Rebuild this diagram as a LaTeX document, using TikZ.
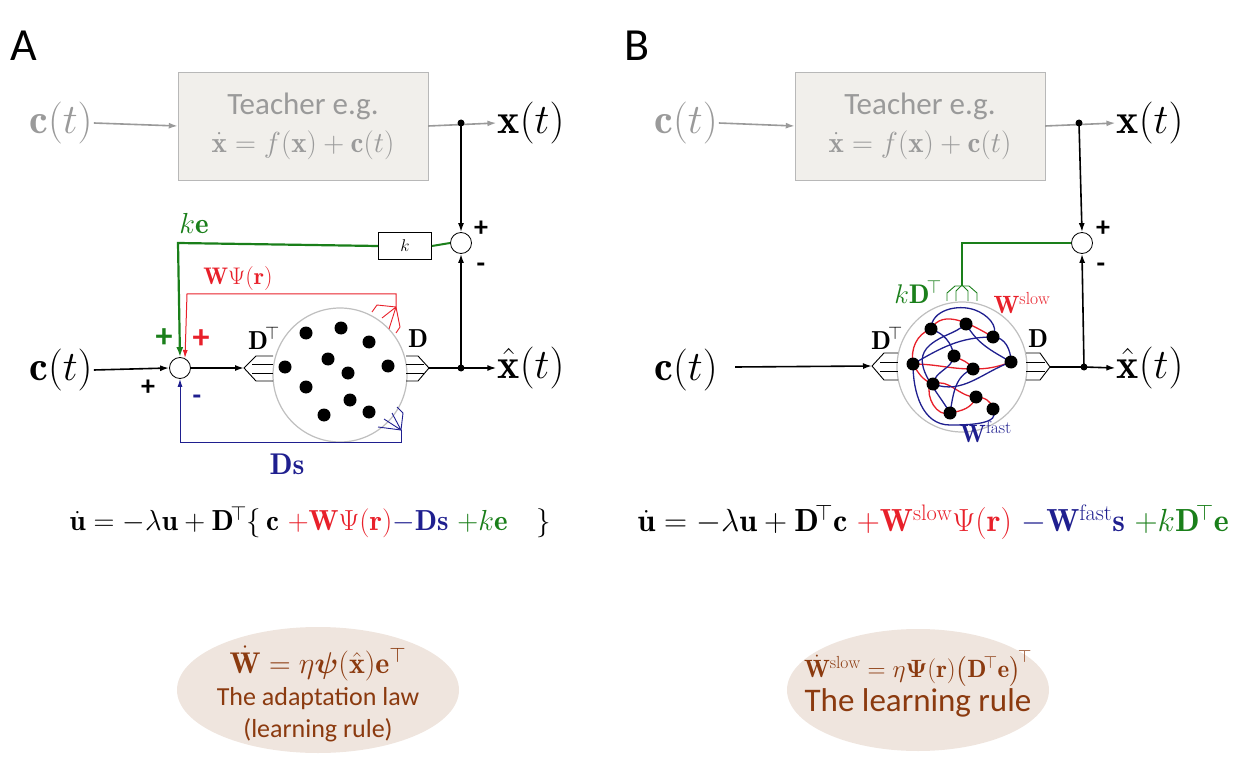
\RequirePackage{fix-cm}
\documentclass[tikz,border=0pt]{standalone}
\usepackage{amsmath,amssymb,bm}
\usepackage{fontspec}
\newfontfamily\sansf{Carlito}
\usetikzlibrary{arrows.meta,shapes.geometric}
\definecolor{myred}{HTML}{E8202A}
\definecolor{mygreen}{HTML}{1A7F1A}
\definecolor{myblue}{HTML}{1F1F8F}
\definecolor{mygrey}{HTML}{9A9A9A}
\definecolor{mybrown}{HTML}{8B3A0F}
\definecolor{boxfill}{HTML}{F1EFEB}
\definecolor{ellfill}{HTML}{EFE5DE}
\begin{document}
\begin{tikzpicture}[x=1pt,y=-1pt,
  sig/.style={line width=1.6pt,-{Latex[length=9pt,width=6pt]}},
  big/.style={font=\fontsize{42}{46}\selectfont,inner sep=1pt},
  sumc/.style={circle,draw,fill=white,minimum size=21pt,inner sep=0pt,line width=0.8pt},
  teacher/.style={draw=mygrey!70,fill=boxfill,minimum width=250pt,minimum height=108pt,align=center,text=mygrey,font=\fontsize{29}{36}\selectfont},
  net/.style={circle,draw=black!25,fill=white,line width=1.2pt},
  dot/.style={circle,fill=black,inner sep=0pt,minimum size=13pt},
  conn/.style={line width=0.9pt},
  ell/.style={ellipse,fill=ellfill,inner sep=0pt},
  pm/.style={font=\sansf\bfseries\fontsize{28}{28}\selectfont},
  dl/.style={font=\fontsize{26}{28}\selectfont},
  lab/.style={font=\sansf\fontsize{46}{46}\selectfont}]
\useasboundingbox (0,0) rectangle (1251,762);
\node[lab] at (24,46) {A};
\node[lab] at (637,46) {B};
% ---------------- A ----------------
\node[teacher] (tA) at (303,126) {{\sansf\fontsize{31}{34}\selectfont Teacher e.g.}\\[2pt] $\dot{\mathbf x}=f(\mathbf x)+\mathbf c(t)$};
\node[big,text=mygrey] (ciA) at (61,123) {$\mathbf c(t)$};
\draw[sig,mygrey] (ciA.east) -- (tA.west);
\coordinate (jA) at (461,123);
\node[big] (xA) at (531,123) {$\mathbf x(t)$};
\draw[sig,mygrey] (tA.east) -- (xA.west);
\fill (jA) circle (3.5pt);
\node[sumc] (sA2) at (461,243) {};
\draw[sig] (jA) -- (sA2.north);
\node[pm] at (481,229) {+};
\node[pm] at (481,268) {-};
\node[draw,fill=white,minimum width=53pt,minimum height=27pt,line width=0.8pt,font=\fontsize{17}{18}\selectfont] (kA) at (405,246) {$k$};
\draw[mygreen,line width=2pt] (sA2.west) -- (kA.east);
\node[sumc] (sA) at (180,368) {};
\draw[mygreen,line width=2.2pt,-{Latex[length=10pt,width=7pt]}] (kA.west) -- (178,243) -- (sA.north);
\node[text=mygreen,font=\fontsize{29}{30}\selectfont] at (194,224) {$k\mathbf e$};
\node[big] (cA) at (61,370) {$\mathbf c(t)$};
\draw[sig] (cA.east) -- (sA.west);
\node[pm] at (148,388) {+};
\node[pm,text=mygreen,font=\sansf\bfseries\fontsize{34}{34}\selectfont] at (164,338) {+};
\node[pm,text=myred,font=\sansf\bfseries\fontsize{34}{34}\selectfont] at (201,339) {+};
\node[pm,text=myblue] at (197,400) {-};
% network
\node[net,minimum size=134pt] (nA) at (340,375) {};
\foreach \p in {(306,333),(341,328),(369,342),(328,359),(285,367),(388,366),(348,373),(306,387),(350,400),(369,412),(324,415)}
  \node[dot] at \p {};
% D^T connector
\coordinate (dtA) at (244,368);
\draw[conn] (273,356)--(256,356)--(244,368)--(256,381)--(273,381);
\draw[conn] (252,364)--(273,364) (252,373)--(273,373);
\draw[sig] (sA.east) -- (dtA);
\node[dl] at (264,338) {$\mathbf D^{\!\top}$};
% D connector
\coordinate (dA) at (429,368);
\draw[conn] (406,356)--(418,356)--(429,368)--(418,381)--(406,381);
\draw[conn] (406,364)--(424,364) (406,373)--(424,373);
\node[dl] at (418,339) {$\mathbf D$};
\coordinate (jA2) at (461,368);
\node[big] (xhA) at (531,368) {$\hat{\mathbf x}(t)$};
\draw[line width=1.6pt] (dA) -- (jA2);
\draw[sig] (jA2) -- (xhA.west);
\fill (jA2) circle (3.5pt);
\draw[sig] (jA2) -- (sA2.south);
% red loop
\draw[myred,conn] (372,312)--(377,305)--(396,307)--(400,327)--(396,333);
\draw[myred,conn] (396,307)--(382,318) (396,307)--(389,329);
\draw[myred,line width=1pt,-{Latex[length=8pt,width=5pt]}] (396,307) -- (396,294) -- (187,294) -- (185,358);
\node[text=myred,font=\fontsize{24}{26}\selectfont] at (238,279) {$\mathbf W\Psi(\mathbf r)$};
% blue loop
\draw[myblue,conn] (397,407)--(403,413)--(401,430)--(378,427);
\draw[myblue,conn] (401,430)--(384,419) (401,430)--(392,413);
\draw[myblue,line width=1pt,-{Latex[length=8pt,width=5pt]}] (401,430) -- (401,442) -- (180,442) -- (sA.south);
\node[text=myblue,font=\fontsize{30}{32}\selectfont] at (287,464) {$\mathbf{Ds}$};
% equation A
\node[font=\fontsize{29}{30}\selectfont,anchor=west] at (66,522) {$\dot{\mathbf u}=-\lambda\mathbf u+\mathbf D^{\!\top}\{\,\mathbf c\ \textcolor{myred}{+\mathbf W\Psi(\mathbf r)}\textcolor{myblue}{-\mathbf{Ds}}\ \textcolor{mygreen}{+k\mathbf e}\quad\}$};
% ellipse A
\node[ell,minimum width=282pt,minimum height=126pt] (eA) at (318,690) {};
\node[text=mybrown,align=center,font=\sansf\fontsize{26}{32}\selectfont] at (318,694) {{\fontsize{30}{30}\selectfont$\dot{\mathbf W}=\eta\bm\psi(\hat{\mathbf x})\mathbf e^{\top}$}\\The adaptation law\\(learning rule)};
% ---------------- B ----------------
\node[teacher] (tB) at (920,126) {{\sansf\fontsize{31}{34}\selectfont Teacher e.g.}\\[2pt] $\dot{\mathbf x}=f(\mathbf x)+\mathbf c(t)$};
\node[big,text=mygrey] (ciB) at (686,123) {$\mathbf c(t)$};
\draw[sig,mygrey] (ciB.east) -- (tB.west);
\coordinate (jB) at (1079,123);
\node[big] (xB) at (1150,123) {$\mathbf x(t)$};
\draw[sig,mygrey] (tB.east) -- (xB.west);
\fill (jB) circle (3.5pt);
\node[sumc] (sB2) at (1082,243) {};
\draw[sig] (jB) -- (sB2.north);
\node[pm] at (1103,229) {+};
\node[pm] at (1101,268) {-};
\node[net,minimum size=130pt] (nB) at (962,367) {};
% green kD^T
\draw[mygreen,conn] (947,301)--(947,293)--(955,286)--(969,286)--(977,293)--(977,301);
\draw[mygreen,conn] (956,301)--(956,291)--(962,285) (968,301)--(968,291)--(962,285);
\draw[mygreen,line width=2pt] (sB2.west) -- (962,243) -- (962,285);
\node[text=mygreen,font=\fontsize{27}{28}\selectfont] at (918,292) {$k\mathbf D^{\!\top}$};
% network edges
\begin{scope}[line width=1.3pt]
\draw[myred] (931,329) to[out=60,in=150] (993,337);
\draw[myred] (931,329) to[out=200,in=100] (913,364);
\draw[myred] (913,364) to[out=0,in=180] (973,369);
\draw[myred] (973,369) to[out=0,in=200] (1011,362);
\draw[myred] (933,384) to[out=20,in=180] (976,397) to[out=0,in=100] (993,409);
\draw[myred] (950,413) to[out=10,in=250] (976,397);
\draw[myred] (913,364) to[out=-60,in=160] (933,384);
\draw[myred] (954,356) to[out=-30,in=120] (973,369);
\draw[myred] (950,413) to[out=200,in=250] (930,384);
\draw[myblue] (913,364) to[out=30,in=180] (993,337) to[out=0,in=90] (1011,362);
\draw[myblue] (931,329) to[out=-20,in=100] (954,356);
\draw[myblue] (966,324) to[out=-60,in=150] (1011,362);
\draw[myblue] (933,384) to[out=-20,in=200] (1011,362);
\draw[myblue] (913,364) to[out=-90,in=180] (950,425) to[out=0,in=-60] (993,409);
\draw[myblue] (950,413) to[out=80,in=200] (973,369);
\draw[myblue] (931,329) to[out=90,in=160] (975,310) to[out=-20,in=60] (993,337);
\draw[myblue] (954,356) to[out=-100,in=80] (933,384);
\draw[myblue] (966,324) to[out=220,in=40] (930,345) to[out=220,in=120] (950,413);
\end{scope}
\foreach \p in {(931,329),(966,324),(993,337),(1011,362),(954,356),(913,364),(973,369),(933,384),(976,397),(950,413),(993,409)}
  \node[dot] at \p {};
\node[text=myred,font=\fontsize{25}{26}\selectfont] at (1022,303) {$\mathbf W^{\mathrm{slow}}$};
\node[text=myblue,font=\fontsize{25}{26}\selectfont] at (986,432) {$\mathbf W^{\mathrm{fast}}$};
% D^T connector B
\coordinate (dtB) at (872,366);
\draw[conn] (898,353)--(884,353)--(872,366)--(884,380)--(898,380);
\draw[conn] (880,362)--(898,362) (880,371)--(898,371);
\node[dl] at (887,338) {$\mathbf D^{\!\top}$};
\node[big] (cB) at (686,370) {$\mathbf c(t)$};
\draw[sig] (735,367) -- (dtB);
% D connector B
\coordinate (dB) at (1050,367);
\draw[conn] (1026,353)--(1040,353)--(1050,367)--(1040,380)--(1026,380);
\draw[conn] (1026,362)--(1045,362) (1026,371)--(1045,371);
\node[dl] at (1038,339) {$\mathbf D$};
\coordinate (jB2) at (1084,367);
\node[big] (xhB) at (1150,368) {$\hat{\mathbf x}(t)$};
\draw[line width=1.6pt] (dB) -- (jB2);
\draw[sig] (jB2) -- (xhB.west);
\fill (jB2) circle (3.5pt);
\draw[sig] (jB2) -- (sB2.south);
% equation B
\node[font=\fontsize{32}{34}\selectfont,anchor=west] at (634,522) {$\dot{\mathbf u}=-\lambda\mathbf u+\mathbf D^{\!\top}\mathbf c\ \textcolor{myred}{+\mathbf W^{\mathrm{slow}}\Psi(\mathbf r)}\ \textcolor{myblue}{-\mathbf W^{\mathrm{fast}}\mathbf s}\ \textcolor{mygreen}{+k\mathbf D^{\!\top}\mathbf e}$};
% ellipse B
\node[ell,minimum width=262pt,minimum height=122pt] (eB) at (918,690) {};
\node[text=mybrown,align=center,font=\sansf\fontsize{33}{34}\selectfont] at (918,684) {{\fontsize{25}{28}\selectfont$\dot{\mathbf W}^{\mathrm{slow}}=\eta\bm\Psi(\mathbf r)\bigl(\mathbf D^{\!\top}\mathbf e\bigr)^{\!\top}$}\\The learning rule};
\end{tikzpicture}
\end{document}
